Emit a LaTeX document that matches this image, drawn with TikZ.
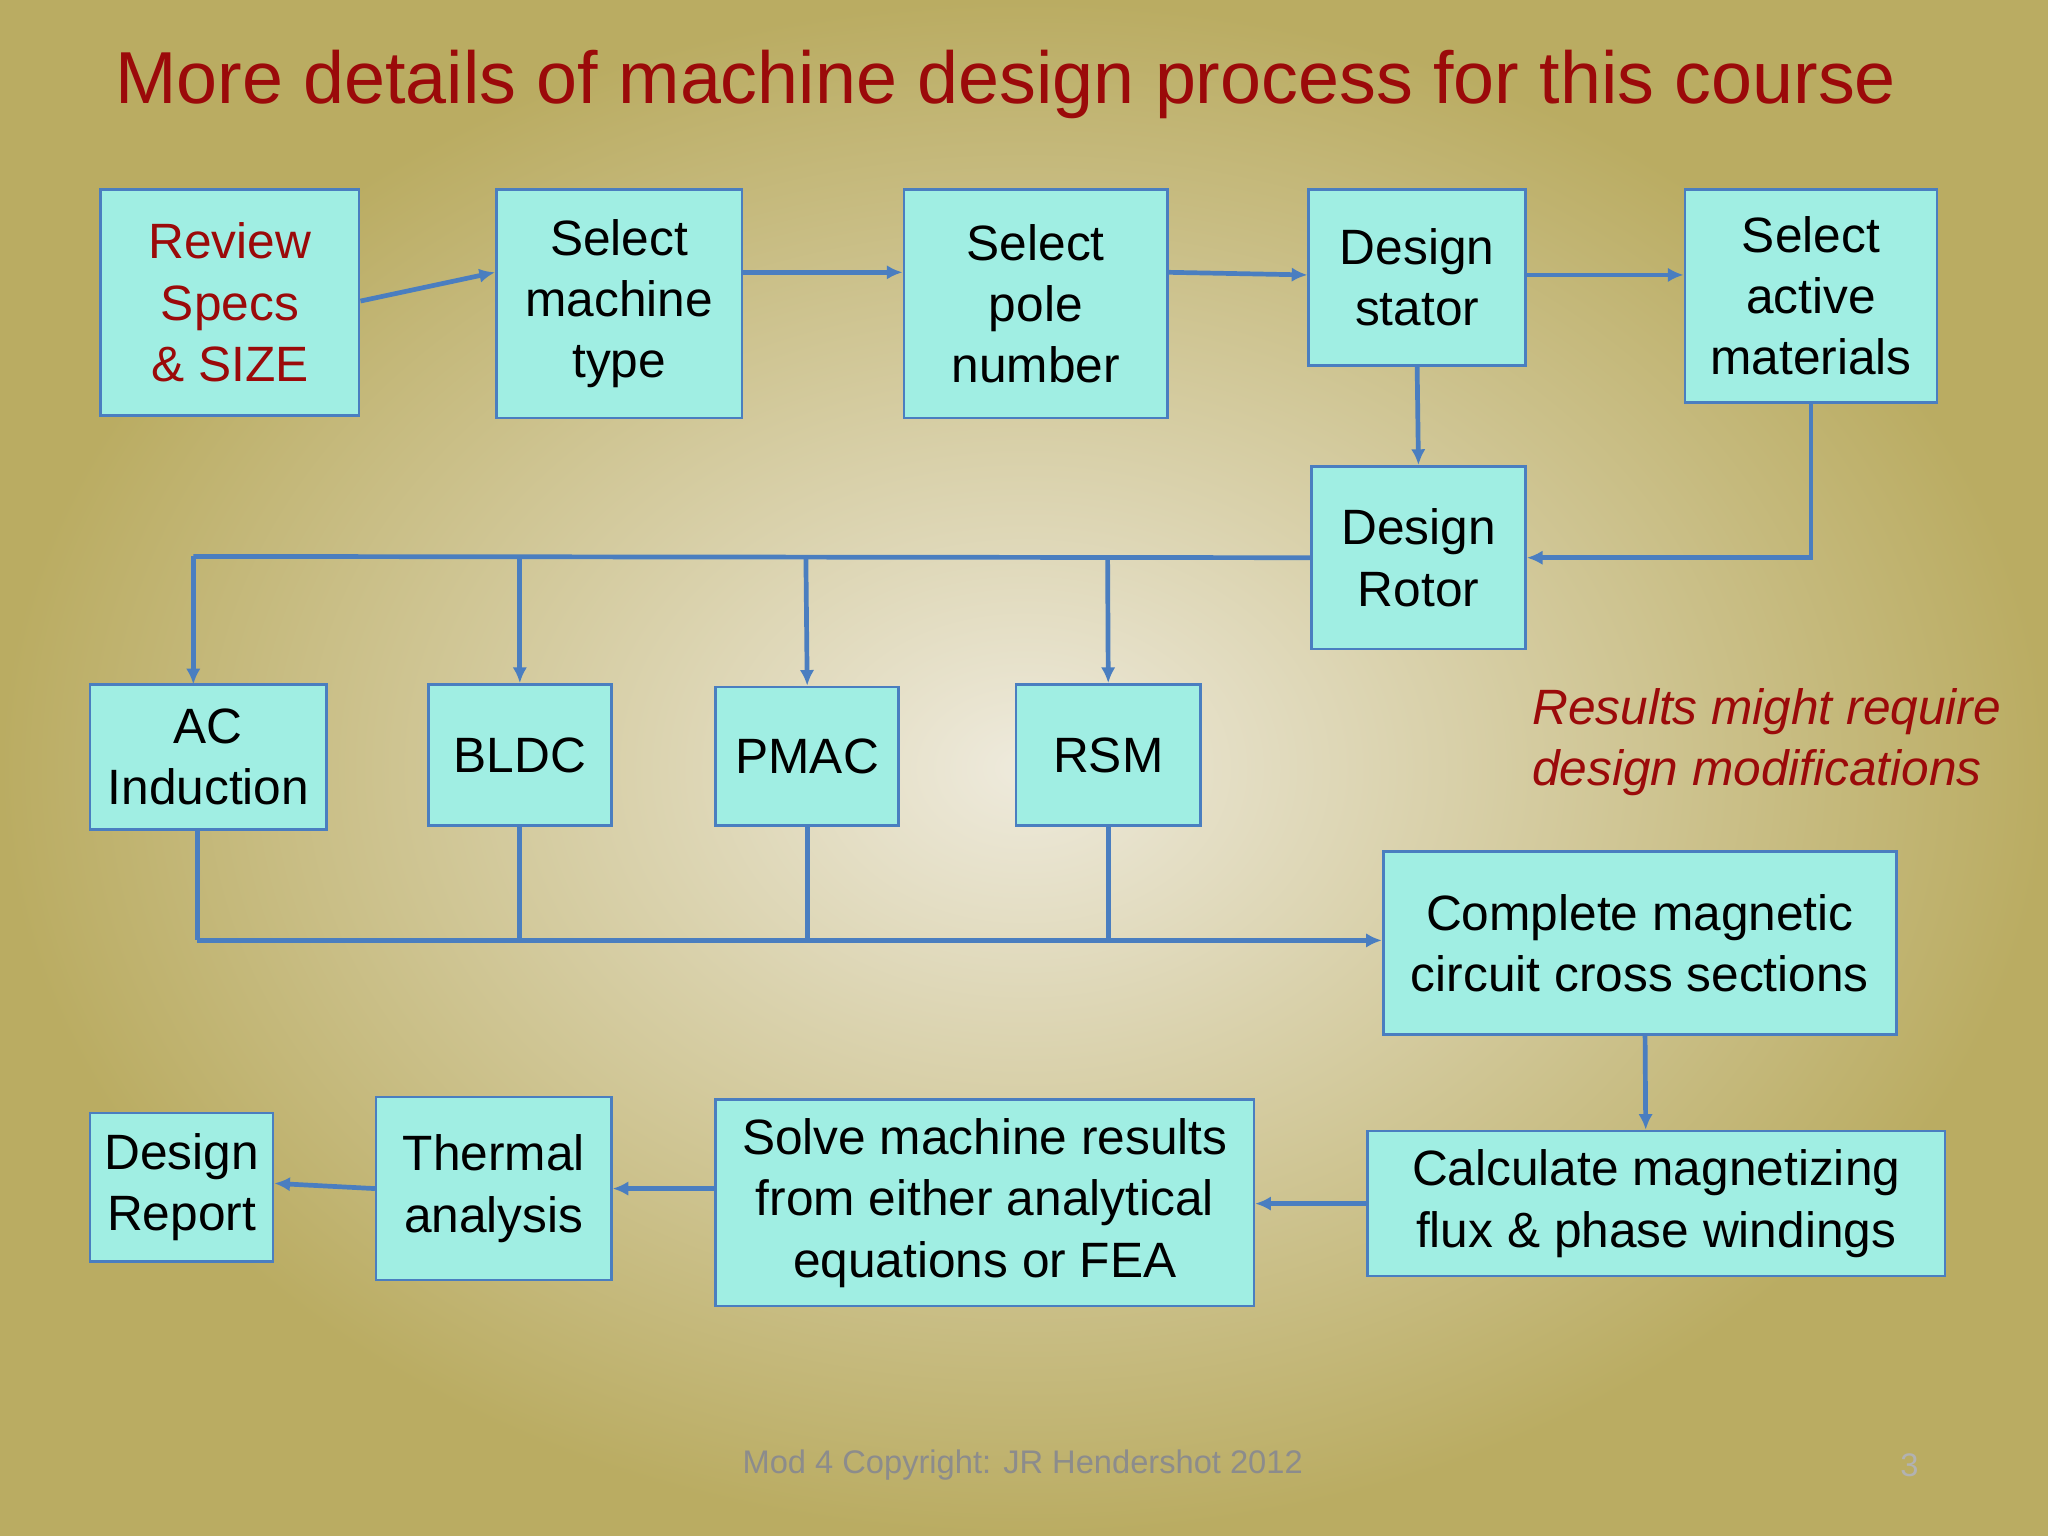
\documentclass[tikz,border=0pt]{standalone}
\usepackage{fontspec}
\setmainfont{Liberation Sans}
\usetikzlibrary{arrows.meta}
\definecolor{boxf}{HTML}{A0EEE3}
\definecolor{boxd}{HTML}{4A7EC0}
\definecolor{ttl}{HTML}{9B0A0A}
\definecolor{bgin}{HTML}{EEEADC}
\definecolor{bgout}{HTML}{BAAC62}
\begin{document}
\begin{tikzpicture}[x=0.5pt,y=-0.5pt,
  box/.style={draw=boxd,fill=boxf,line width=1pt,align=center,inner sep=0pt,font=\fontsize{19}{23.5}\selectfont},
  arr/.style={draw=boxd,line width=1.8pt,-{Latex[length=6pt,width=5.5pt]}},
  ln/.style={draw=boxd,line width=1.8pt}]
\shade[inner color=bgin,outer color=bgout] (0,0) rectangle (1568,1176);
\useasboundingbox (0,0) rectangle (1568,1176);
\node[text=ttl,font=\fontsize{28.2}{30}\selectfont] (title) at (770,65) {More details of machine design process for this course};
\node[box,minimum width=99pt,minimum height=86.5pt,text=ttl] (review) at (176,231.5) {Review\\Specs\\\& SIZE};
\node[box,minimum width=94pt,minimum height=87.5pt] (machine) at (474,232.5) {Select\\machine\\type};
\node[box,minimum width=101pt,minimum height=87.5pt] (pole) at (793,232.5) {Select\\pole\\number};
\node[box,minimum width=83pt,minimum height=67.5pt] (stator) at (1085,212.5) {Design\\stator};
\node[box,minimum width=96.5pt,minimum height=81.5pt] (active) at (1386.5,226.5) {Select\\active\\materials};
\node[box,minimum width=82pt,minimum height=70pt] (rotor) at (1086,427) {Design\\Rotor};
\node[box,minimum width=90.5pt,minimum height=55.5pt] (ac) at (159.5,579.5) {AC\\Induction};
\node[box,minimum width=70pt,minimum height=54pt] (bldc) at (398,578) {BLDC};
\node[box,minimum width=70pt,minimum height=53pt] (pmac) at (618,579) {PMAC};
\node[box,minimum width=70.5pt,minimum height=54pt] (rsm) at (848.5,578) {RSM};
\node[box,minimum width=196.5pt,minimum height=70pt] (complete) at (1255.5,722) {Complete magnetic\\circuit cross sections};
\node[box,minimum width=221pt,minimum height=55.5pt] (calc) at (1268,921.5) {Calculate magnetizing\\flux \& phase windings};
\node[box,minimum width=206pt,minimum height=79pt] (solve) at (754,921) {Solve machine results\\from either analytical\\equations or FEA};
\node[box,minimum width=90pt,minimum height=70pt] (thermal) at (378,910) {Thermal\\analysis};
\node[box,minimum width=70pt,minimum height=57pt] (report) at (139,909) {Design\\Report};
\node[text=ttl,font=\fontsize{19}{23.5}\selectfont\itshape,align=left,anchor=west] (note) at (1166,568) {Results might require\\design modifications};
\node[text=black!45,font=\fontsize{12.5}{14}\selectfont] (foot) at (783,1122) {Mod 4 Copyright: JR Hendershot 2012};
\node[text=black!30,font=\fontsize{12.5}{14}\selectfont] (pg) at (1462,1122) {3};
\draw[arr] (review.east) ++(0,-1) -- ([yshift=12pt]machine.west);
\draw[arr] ([yshift=12pt]machine.east) -- ([yshift=12pt]pole.west);
\draw[arr] ([yshift=12pt]pole.east) -- ([yshift=1pt]stator.west);
\draw[arr] ([yshift=1pt]stator.east) -- ([yshift=8pt]active.west);
\draw[arr] (stator.south) -- (rotor.north);
\draw[arr] (active.south) |- (rotor.east);
\coordinate (rl) at (148,426);
\draw[ln] (rotor.west) -- (rl);
\draw[arr] (rl) -- (148,524);
\draw[arr] (398,426) -- (bldc.north);
\draw[arr] (617,426) -- (pmac.north);
\draw[arr] (848,426) -- (rsm.north);
\coordinate (bl) at (151,720);
\draw[ln] (151,635) -- (bl);
\draw[ln] (bldc.south) -- (398,720);
\draw[ln] (pmac.south) -- (618,720);
\draw[ln] (rsm.south) -- (848.5,720);
\draw[arr] (bl) -- (complete.west |- bl);
\draw[arr] ([xshift=2pt]complete.south) -- ([xshift=-4pt]calc.north);
\draw[arr] (calc.west) -- (solve.east |- calc.west);
\draw[arr] (solve.west |- thermal.east) -- (thermal.east);
\draw[arr] (thermal.west) -- ([yshift=1.5pt]report.east);
\end{tikzpicture}
\end{document}
